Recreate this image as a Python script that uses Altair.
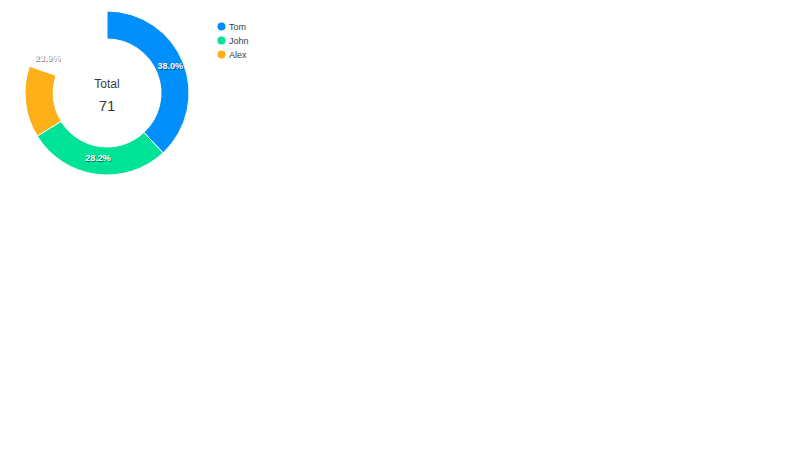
import altair as alt
import pandas as pd

names = ["Tom", "John", "Alex"]
# arc lengths as drawn in the picture (units of the 71 total)
arc_values = [27, 20, 10]
# spans used to place the percentage labels
label_spans = [27, 20, 24]
pct_labels = ["38.0%", "28.2%", "23.9%"]
total = 71
colors = ["#008FFB", "#00E396", "#FEB019"]

df = pd.DataFrame({
    "name": names,
    "value": arc_values,
    "span": label_spans,
    "pct": pct_labels,
    "idx": list(range(len(names))),
})

FONT = "Liberation Sans"
CX, CY = 99, 85
theta_scale = alt.Scale(domain=[0, total])

base = alt.Chart(df)

arcs = base.mark_arc(outerRadius=82, innerRadius=54, stroke="white", strokeWidth=1).encode(
    theta=alt.Theta("value:Q", stack=True, scale=theta_scale),
    order=alt.Order("idx:Q"),
    color=alt.Color(
        "name:N",
        scale=alt.Scale(domain=names, range=colors),
        sort=names,
        legend=alt.Legend(
            title=None,
            orient="none",
            legendX=209,
            legendY=14,
            symbolType="circle",
            symbolSize=64,
            symbolStrokeWidth=0,
            labelFontSize=9,
            labelFont=FONT,
            labelColor="#373d3f",
            rowPadding=4,
            labelOffset=3,
            padding=0,
        ),
    ),
    x=alt.value(CX),
    y=alt.value(CY),
)

shadow = base.mark_text(radius=68, fontSize=9, fontWeight="bold", font=FONT,
                        color="#000000", opacity=0.45, dx=1, dy=-1).encode(
    theta=alt.Theta("span:Q", stack=True, scale=theta_scale),
    order=alt.Order("idx:Q"),
    text="pct:N",
    x=alt.value(CX),
    y=alt.value(CY),
)

labels = base.mark_text(radius=68, fontSize=9, fontWeight="bold", font=FONT,
                        color="#ffffff", dy=-2).encode(
    theta=alt.Theta("span:Q", stack=True, scale=theta_scale),
    order=alt.Order("idx:Q"),
    text="pct:N",
    x=alt.value(CX),
    y=alt.value(CY),
)

center_title = alt.Chart(pd.DataFrame({"t": ["Total"]})).mark_text(
    fontSize=12, font=FONT, color="#373d3f", baseline="middle").encode(
    text="t:N", x=alt.value(CX), y=alt.value(CY - 9))
center_total = alt.Chart(pd.DataFrame({"t": [str(total)]})).mark_text(
    fontSize=15, font=FONT, color="#373d3f", baseline="middle").encode(
    text="t:N", x=alt.value(CX), y=alt.value(CY + 13))

chart = alt.layer(arcs, shadow, labels, center_title, center_total).properties(
    width=784, height=434, padding=0, autosize=alt.AutoSizeParams(type="none")
).configure_view(stroke=None)

chart.save("out.html", embed_options={"renderer": "svg", "actions": False})
